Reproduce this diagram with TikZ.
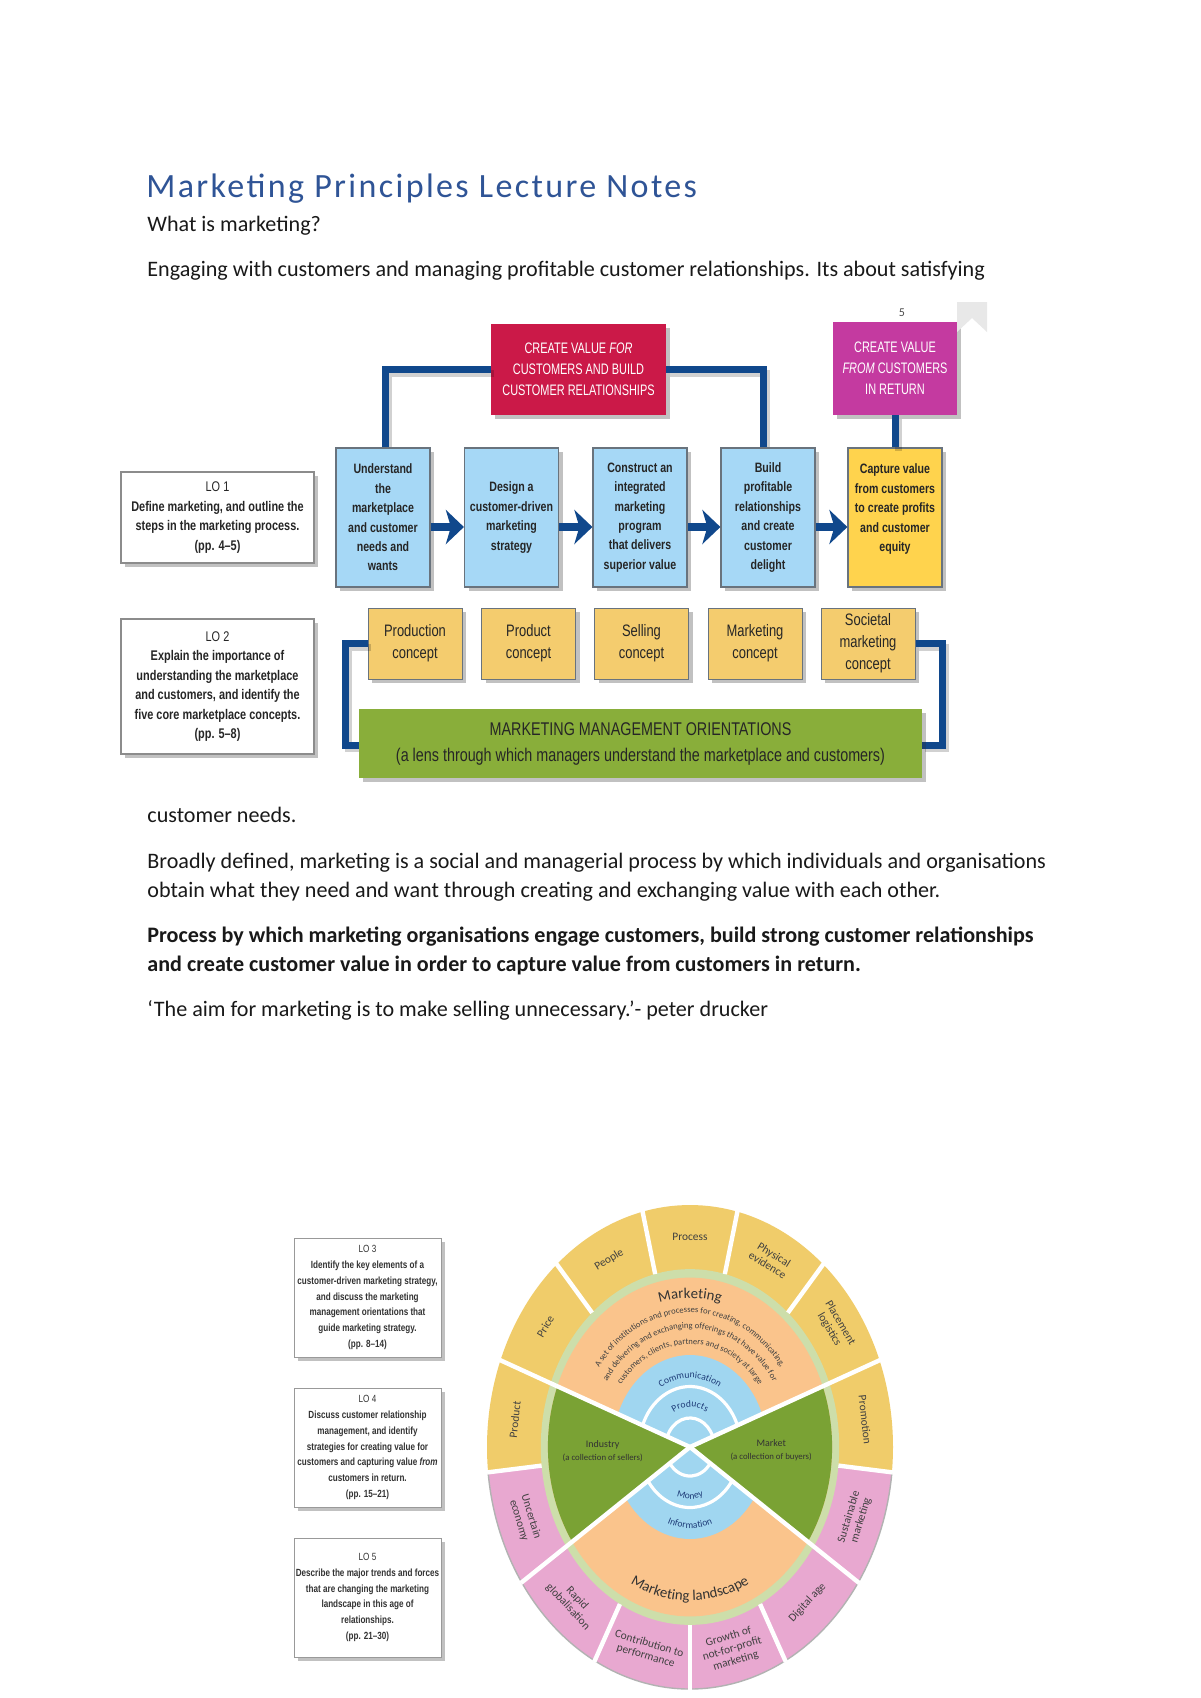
\documentclass[tikz,border=0pt]{standalone}
\usepackage{fontspec}
\setmainfont{Carlito}
\newfontfamily\cond[FakeStretch=0.78]{Liberation Sans}
\newfontfamily\condc[FakeStretch=0.72]{Liberation Sans}
\newfontfamily\titlefont[LetterSpace=7]{Carlito}
\usetikzlibrary{arrows.meta,shadows,decorations.text,calc}
\definecolor{titleblue}{RGB}{47,84,150}
\definecolor{navy}{RGB}{16,72,140}
\definecolor{lblue}{RGB}{166,216,246}
\definecolor{capy}{RGB}{255,211,77}
\definecolor{conc}{RGB}{244,204,110}
\definecolor{gbox}{RGB}{137,174,58}
\definecolor{redb}{RGB}{203,25,72}
\definecolor{magb}{RGB}{196,58,160}
\definecolor{edgec}{RGB}{105,115,125}
\definecolor{ylw}{RGB}{240,204,106}
\definecolor{pnk}{RGB}{232,168,208}
\definecolor{pgrn}{RGB}{205,222,170}
\definecolor{peach}{RGB}{250,196,140}
\definecolor{wgrn}{RGB}{122,162,52}
\definecolor{cblue}{RGB}{160,214,240}
\definecolor{dblue}{RGB}{30,60,120}
\begin{document}
\begin{tikzpicture}[x=0.5pt,y=-0.5pt,
  body/.style={anchor=base west, inner sep=0pt, font=\fontsize{11.05}{14}\selectfont, text=black!90},
  conn/.style={draw=navy, line width=3.5pt, preaction={draw=black, opacity=0.18, line width=3.5pt, transform canvas={xshift=1.8pt,yshift=-1.8pt}}},
  arr/.style={draw=navy, line width=4pt, -{Stealth[length=9pt,width=17pt,inset=2.5pt]}},
  shad/.style={drop shadow={shadow xshift=2pt, shadow yshift=-2pt, opacity=0.3, fill=black!80}},
  bluebox/.style={shad, draw=edgec, line width=0.6pt, fill=lblue, inner sep=0pt, align=center, minimum width=47pt, minimum height=69.5pt, font=\cond\bfseries\fontsize{6.8}{9.7}\selectfont, text=black!85},
  concbox/.style={shad, draw=edgec, line width=0.5pt, fill=conc, inner sep=0pt, align=center, minimum width=47pt, minimum height=35.5pt, font=\cond\fontsize{8.3}{11}\selectfont, text=black!85},
  capbox/.style={shad, inner sep=0pt, align=center, text=white, font=\condc\fontsize{7.6}{10.6}\selectfont},
  lobox/.style={shad, draw=black!45, line width=0.6pt, fill=white, inner sep=0pt, align=center, font=\cond\fontsize{7}{9.75}\selectfont, text=black!85},
  losmall/.style={shad, draw=black!40, line width=0.5pt, fill=white, inner sep=0pt, align=center, minimum width=73.5pt, minimum height=59.5pt, font=\cond\fontsize{5.2}{7.9}\selectfont, text=black!80},
  seglabel/.style={inner sep=0pt, align=center, font=\fontsize{5.7}{6.3}\selectfont, text=black!75},
  sep/.style={draw=white, line width=2.2pt},
]
\useasboundingbox[fill=white] (0,0) rectangle (1200,1698);

% ---------------- text ----------------
\node[anchor=base west, inner sep=0pt, font=\titlefont\fontsize{17}{20}\selectfont, text=titleblue] (title) at (146,197) {Marketing Principles Lecture Notes};
\node[body] (q) at (147,231) {What is marketing?};
\node[body] (p1) at (147,276) {Engaging with customers and managing profitable customer relationships. Its about satisfying};
\node[body] (p2) at (147,822) {customer needs.};
\node[body] (p3) at (147,868) {Broadly defined, marketing is a social and managerial process by which individuals and organisations};
\node[body] (p4) at (147,897) {obtain what they need and want through creating and exchanging value with each other.};
\node[body, font=\bfseries\fontsize{11.05}{14}\selectfont] (p5) at (147,942) {Process by which marketing organisations engage customers, build strong customer relationships};
\node[body, font=\bfseries\fontsize{11.05}{14}\selectfont] (p6) at (147,971) {and create customer value in order to capture value from customers in return.};
\node[body] (p7) at (147,1016) {‘The aim for marketing is to make selling unnecessary.’- peter drucker};

% ---------------- top diagram ----------------
\node[capbox, fill=redb, minimum width=87.5pt, minimum height=45.5pt] (red) at (578.5,369.5) {CREATE VALUE \textit{FOR}\\CUSTOMERS AND BUILD\\CUSTOMER RELATIONSHIPS};
\node[capbox, fill=magb, minimum width=62pt, minimum height=46.5pt] (mag) at (895,368.5) {CREATE VALUE\\\textit{FROM} CUSTOMERS\\IN RETURN};
\node[inner sep=0pt, font=\fontsize{6}{7}\selectfont, text=black!70] (pg) at (902,313) {5};
\fill[black!9] (957,302) -- (987,302) -- (987,332) -- (972,318) -- (957,332) -- cycle;

\coordinate (b4top) at (763,448);
\coordinate (b1top) at (385,448);
\draw[conn] (red.west) -| (b1top);
\draw[conn] (red.east) -| (b4top);

\node[bluebox] (b1) at (383,517.5) {Understand\\the\\marketplace\\and customer\\needs and\\wants};
\node[bluebox] (b2) at (511.5,517.5) {Design a\\customer-driven\\marketing\\strategy};
\node[bluebox] (b3) at (640,517.5) {Construct an\\integrated\\marketing\\program\\that delivers\\superior value};
\node[bluebox] (b4) at (768,517.5) {Build\\profitable\\relationships\\and create\\customer\\delight};
\node[bluebox, fill=capy] (b5) at (895,517.5) {Capture value\\from customers\\to create profits\\and customer\\equity\\\mbox{}};
\draw[conn] (mag.south) -- (b5.north);

\draw[arr] ([yshift=-4.75pt]b1.east) -- ([yshift=-4.75pt]b2.west);
\draw[arr] ([yshift=-4.75pt]b2.east) -- ([yshift=-4.75pt]b3.west);
\draw[arr] ([yshift=-4.75pt]b3.east) -- ([yshift=-4.75pt]b4.west);
\draw[arr] ([yshift=-4.75pt]b4.east) -- ([yshift=-4.75pt]b5.west);

\node[lobox, minimum width=96.5pt, minimum height=45.5pt] (lo1) at (217.5,517.5) {LO 1\\\textbf{Define marketing, and outline the}\\\textbf{steps in the marketing process.}\\\textbf{(pp. 4–5)}};
\node[lobox, minimum width=96.5pt, minimum height=67.5pt] (lo2) at (217.5,686.5) {LO 2\\\textbf{Explain the importance of}\\\textbf{understanding the marketplace}\\\textbf{and customers, and identify the}\\\textbf{five core marketplace concepts.}\\\textbf{(pp. 5–8)}};

\coordinate (lb) at (345,745);
\coordinate (rb) at (942,745);
\node[concbox] (c1) at (415,643.5) {Production\\concept};
\node[concbox] (c2) at (528.5,643.5) {Product\\concept};
\node[concbox] (c3) at (641.5,643.5) {Selling\\concept};
\node[concbox] (c4) at (755,643.5) {Marketing\\concept};
\node[concbox] (c5) at (868,643.5) {Societal\\marketing\\concept};
\draw[conn] (c1.west) -| (lb) -- (360,745);
\draw[conn] (c5.east) -| (rb) -- (921,745);
\node[shad, fill=gbox, inner sep=0pt, minimum width=281.5pt, minimum height=34.5pt, align=center, font=\cond\fontsize{9.2}{13}\selectfont, text=black!85] (gm) at (640.5,743.5) {MARKETING MANAGEMENT ORIENTATIONS\\(a lens through which managers understand the marketplace and customers)};

% ---------------- bottom LO boxes ----------------
\node[losmall] (lo3) at (367.5,1297.5) {LO 3\\\textbf{Identify the key elements of a}\\\textbf{customer-driven marketing strategy,}\\\textbf{and discuss the marketing}\\\textbf{management orientations that}\\\textbf{guide marketing strategy.}\\\textbf{(pp. 8–14)}};
\node[losmall] (lo4) at (367.5,1447.5) {LO 4\\\textbf{Discuss customer relationship}\\\textbf{management, and identify}\\\textbf{strategies for creating value for}\\\textbf{customers and capturing value \textit{from}}\\\textbf{customers in return.}\\\textbf{(pp. 15–21)}};
\node[losmall] (lo5) at (367.5,1597.5) {LO 5\\\textbf{Describe the major trends and forces}\\\textbf{that are changing the marketing}\\\textbf{landscape in this age of}\\\textbf{relationships.}\\\textbf{(pp. 21–30)}};

% ---------------- circle ----------------
\begin{scope}[shift={(690,1447)}, x=101.5pt, y=121pt]
  \foreach \a/\b in {-6/21, 21/49, 49/76.5, 76.5/103.5, 103.5/131, 131/159, 159/186}
    \fill[ylw] (0,0) -- (\a:1) arc[start angle=\a, end angle=\b, radius=1] -- cycle;
  \foreach \a/\b in {186/214, 214/242, 242/270, 270/298, 298/326, 326/354}
    \fill[pnk] (0,0) -- (\a:1) arc[start angle=\a, end angle=\b, radius=1] -- cycle;
  \draw[black!30, line width=0.7pt] (186:1) arc[start angle=186, end angle=354, radius=1];
  \fill[pgrn] (0,0) circle[radius=0.735];
  \fill[peach] (0,0) circle[radius=0.70];
  \fill[wgrn] (0,0) -- (159:0.70) arc[start angle=159, end angle=214, radius=0.70] -- cycle;
  \fill[wgrn] (0,0) -- (-34:0.70) arc[start angle=-34, end angle=21, radius=0.70] -- cycle;
  \fill[cblue] (0,0) -- (21:0.38) arc[start angle=21, end angle=159, radius=0.38] -- cycle;
  \fill[cblue] (0,0) -- (214:0.38) arc[start angle=214, end angle=326, radius=0.38] -- cycle;
  \foreach \r in {0.12,0.25} {
    \draw[white, line width=1.6pt] (21:\r) arc[start angle=21, end angle=159, radius=\r];
    \draw[white, line width=1.6pt] (214:\r) arc[start angle=214, end angle=326, radius=\r];
  }
  \foreach \a in {-6,49,76.5,103.5,131,186,242,270,298}
    \draw[sep] (\a:0.735) -- (\a:1.005);
  \foreach \a in {21,159,214,326}
    \draw[sep] (0,0) -- (\a:1.005);

  % outer ring labels
  \node[seglabel, rotate=83.7] (l1) at (172.5:0.87) {Product};
  \node[seglabel, rotate=59.5] (l2) at (145:0.87) {Price};
  \node[seglabel, rotate=31.6] (l3) at (117.25:0.87) {People};
  \node[seglabel] (l4) at (90:0.87) {Process};
  \node[seglabel, rotate=-31.6] (l5) at (62.75:0.87) {Physical\\evidence};
  \node[seglabel, rotate=-59.5] (l6) at (35:0.87) {Placement\\logistics};
  \node[seglabel, rotate=-83.7] (l7) at (7.5:0.87) {Promotion};
  \node[seglabel, rotate=-73] (m1) at (200:0.865) {Uncertain\\economy};
  \node[seglabel, rotate=-47] (m2) at (228:0.865) {Rapid\\globalisation};
  \node[seglabel, rotate=-16.5] (m3) at (256:0.865) {Contribution to\\performance};
  \node[seglabel, rotate=16.5] (m4) at (284:0.86) {Growth of\\not-for-profit\\marketing};
  \node[seglabel, rotate=47] (m5) at (312:0.865) {Digital age};
  \node[seglabel, rotate=73] (m6) at (340:0.865) {Sustainable\\marketing};

  % inner texts
  \path[decorate, decoration={text along path, text align=center, text={|\fontsize{7.4}{8}\selectfont\color{black!80}|Marketing}}]
    (120:0.615) arc[start angle=120, end angle=60, radius=0.615];
  \path[decorate, decoration={text along path, text align=center, text={|\fontsize{4.3}{5}\selectfont\color{black!75}|A set of institutions and processes for creating, communicating,}}]
    (170:0.555) arc[start angle=170, end angle=10, radius=0.555];
  \path[decorate, decoration={text along path, text align=center, text={|\fontsize{4.3}{5}\selectfont\color{black!75}|and delivering and exchanging offerings that have value for}}]
    (170:0.49) arc[start angle=170, end angle=10, radius=0.49];
  \path[decorate, decoration={text along path, text align=center, text={|\fontsize{4.3}{5}\selectfont\color{black!75}|customers, clients, partners and society at large}}]
    (170:0.425) arc[start angle=170, end angle=10, radius=0.425];
  \path[decorate, decoration={text along path, text align=center, text={|\fontsize{4.8}{5.5}\selectfont\color{dblue}|Communication}}]
    (150:0.285) arc[start angle=150, end angle=30, radius=0.285];
  \path[decorate, decoration={text along path, text align=center, text={|\fontsize{4.8}{5.5}\selectfont\color{dblue}|Products}}]
    (150:0.165) arc[start angle=150, end angle=30, radius=0.165];
  \path[decorate, decoration={text along path, text align=center, text={|\fontsize{4.8}{5.5}\selectfont\color{dblue}|Money}}]
    (220:0.215) arc[start angle=220, end angle=320, radius=0.215];
  \path[decorate, decoration={text along path, text align=center, text={|\fontsize{4.8}{5.5}\selectfont\color{dblue}|Information}}]
    (220:0.335) arc[start angle=220, end angle=320, radius=0.335];
  \path[decorate, decoration={text along path, text align=center, text={|\fontsize{7.4}{8}\selectfont\color{black!80}|Marketing landscape}}]
    (230:0.635) arc[start angle=230, end angle=310, radius=0.635];
  \node[inner sep=0pt, align=center, font=\fontsize{4.4}{6.5}\selectfont, text=black!80] (ind) at (-0.43,-0.015) {{\fontsize{5}{6}\selectfont Industry}\\(a collection of sellers)};
  \node[inner sep=0pt, align=center, font=\fontsize{4.4}{6.5}\selectfont, text=black!80] (mkt) at (0.40,-0.015) {{\fontsize{5}{6}\selectfont Market}\\(a collection of buyers)};
\end{scope}
\end{tikzpicture}
\end{document}
